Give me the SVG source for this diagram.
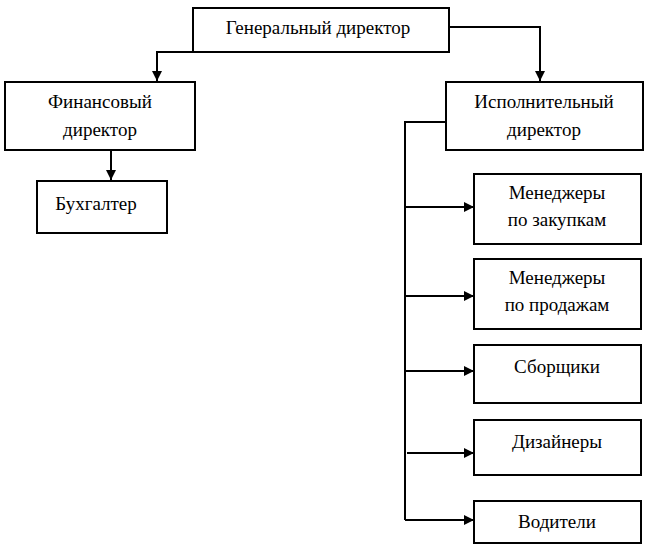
<svg xmlns="http://www.w3.org/2000/svg" width="647" height="552" viewBox="0 0 647 552" font-family="Liberation Serif, DejaVu Serif, serif">
<style>
rect{fill:#fff;stroke:#000;stroke-width:2}
text{font-size:19px;fill:#000;text-anchor:middle}
.c line,.c polyline{stroke:#000;stroke-width:2;fill:none}
</style>
<defs><marker id="a" viewBox="0 0 10 10" refX="10" refY="5" markerWidth="5" markerHeight="5" orient="auto"><path d="M0,0L10,5L0,10z" fill="#000"/></marker></defs>
<rect width="647" height="552" style="stroke:none"/>
<g class="c">
<polyline points="193,52 157,52 157,81" marker-end="url(#a)"/>
<polyline points="449,27 540,27 540,81" marker-end="url(#a)"/>
<line x1="111" y1="150" x2="111" y2="180" marker-end="url(#a)"/>
<polyline points="446,122 405,122 405,520"/>
<line x1="405" y1="207" x2="474" y2="207" marker-end="url(#a)"/>
<line x1="405" y1="296" x2="474" y2="296" marker-end="url(#a)"/>
<line x1="405" y1="371" x2="474" y2="371" marker-end="url(#a)"/>
<line x1="407" y1="453" x2="474" y2="453" marker-end="url(#a)"/>
<line x1="405" y1="520" x2="474" y2="520" marker-end="url(#a)"/>
</g>
<g id="gen"><rect x="193" y="8" width="256" height="44"/><text x="318" y="34">Генеральный директор</text></g>
<g id="fin"><rect x="5" y="82" width="190" height="68"/><text x="100" y="108">Финансовый</text><text x="100" y="136">директор</text></g>
<g id="isp"><rect x="446" y="82" width="197" height="68"/><text x="544" y="108">Исполнительный</text><text x="544" y="136">директор</text></g>
<g id="buh"><rect x="37" y="181" width="130" height="52"/><text x="96" y="210">Бухгалтер</text></g>
<g id="m1"><rect x="474" y="174" width="167" height="70"/><text x="557" y="199">Менеджеры</text><text x="557" y="226">по закупкам</text></g>
<g id="m2"><rect x="474" y="259" width="167" height="70"/><text x="557" y="284">Менеджеры</text><text x="557" y="311">по продажам</text></g>
<g id="sb"><rect x="474" y="345" width="167" height="58"/><text x="557" y="373">Сборщики</text></g>
<g id="diz"><rect x="474" y="420" width="167" height="55"/><text x="557" y="448">Дизайнеры</text></g>
<g id="vod"><rect x="474" y="501" width="167" height="42"/><text x="557" y="528">Водители</text></g>
</svg>
